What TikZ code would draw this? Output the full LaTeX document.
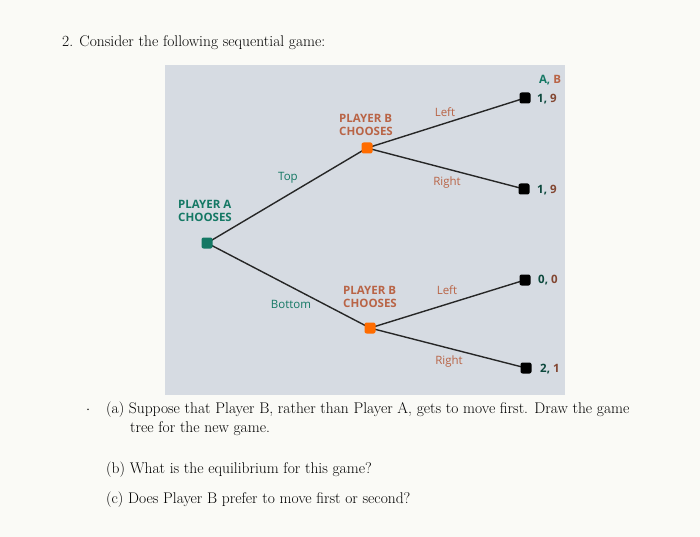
\documentclass[tikz,border=0pt]{standalone}
\usepackage{fontspec}
\newfontfamily\lab{Open Sans}
\newcommand\lfs{\fontsize{11.5}{12.5}\selectfont}
\begin{document}
\begin{tikzpicture}[x=1pt,y=-1pt,
  q/.style={anchor=west,font=\fontsize{15.5}{17}\selectfont,inner sep=0},
  lbl/.style={font=\lab\lfs,align=left,inner sep=0},
  bl/.style={font=\lab\bfseries\lfs,align=left,inner sep=0},
  edge/.style={line width=1.4pt,black!85},
  dot/.style={draw=none,rounded corners=2pt,minimum size=11pt,inner sep=0},
  teal/.style={text=ctl}, brn/.style={text=cor}]
\definecolor{ctl}{RGB}{20,120,100}
\definecolor{cor}{RGB}{185,100,70}
\definecolor{bg}{RGB}{214,219,226}
\definecolor{paper}{RGB}{250,250,246}
\useasboundingbox (0,0) rectangle (700,537);
\fill[paper] (0,0) rectangle (700,537);
\fill[bg] (165,65) rectangle (565,395);
\node[q] (t1) at (62,43) {2. Consider the following sequential game:};
\coordinate (a) at (207,243);
\coordinate (b1) at (367,148);
\coordinate (b2) at (370,328);
\coordinate (e1) at (525,98);
\coordinate (e2) at (524,189);
\coordinate (e3) at (525,280);
\coordinate (e4) at (526,368);
\draw[edge] (a)--(b1) (a)--(b2) (b1)--(e1) (b1)--(e2) (b2)--(e3) (b2)--(e4);
\node[dot,fill=ctl] (na) at (a) {};
\node[dot,fill=orange!85!red] (nb1) at (b1) {};
\node[dot,fill=orange!85!red] (nb2) at (b2) {};
\foreach \n in {e1,e2,e3,e4}{\node[dot,fill=black] (n\n) at (\n) {};}
\node[bl,teal] (la) at (205,211) {PLAYER A\\CHOOSES};
\node[bl,brn] (lb1) at (366,125) {PLAYER B\\CHOOSES};
\node[bl,brn] (lb2) at (370,297) {PLAYER B\\CHOOSES};
\node[lbl,teal] (top) at (288,178) {Top};
\node[lbl,teal] (bot) at (291,304) {Bottom};
\node[lbl,brn] (l1) at (445,112) {Left};
\node[lbl,brn] (r1) at (447,183) {Right};
\node[lbl,brn] (l2) at (447,290) {Left};
\node[lbl,brn] (r2) at (449,362) {Right};
\node[bl] (ab) at (550,80) {\textcolor{ctl}{A,} \textcolor{cor}{B}};
\node[bl,anchor=west] (p1) at (537,99) {\textcolor{ctl!60!black}{1,} \textcolor{cor!70!black}{9}};
\node[bl,anchor=west] (p2) at (537,190) {\textcolor{ctl!60!black}{1,} \textcolor{cor!70!black}{9}};
\node[bl,anchor=west] (p3) at (538,280) {\textcolor{ctl!60!black}{0,} \textcolor{cor!70!black}{0}};
\node[bl,anchor=west] (p4) at (540,369) {\textcolor{ctl!60!black}{2,} \textcolor{cor!70!black}{1}};
\node[q] (bul) at (86,410) {$\cdot$};
\node[q] (qa) at (106,410) {(a) Suppose that Player B, rather than Player A, gets to move first. Draw the game};
\node[q] (qa2) at (130,429) {tree for the new game.};
\node[q] (qb) at (106,470) {(b) What is the equilibrium for this game?};
\node[q] (qc) at (106,500) {(c) Does Player B prefer to move first or second?};
\end{tikzpicture}
\end{document}
